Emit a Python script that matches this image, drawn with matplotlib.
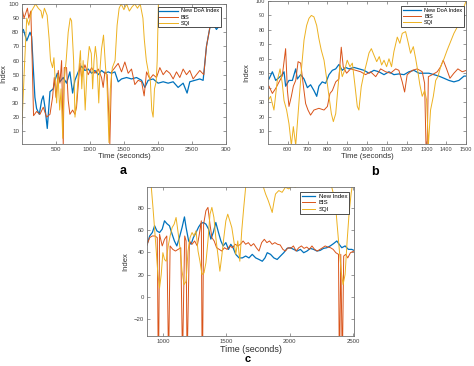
import matplotlib
matplotlib.use("Agg")
import matplotlib.pyplot as plt

plt.rcParams["font.family"] = ["Liberation Sans", "DejaVu Sans"]

# ---- panel a ----
a_new_x = [0, 20, 70, 118, 142, 166, 190, 215, 255, 290, 313, 338, 372, 412, 460, 485, 520, 558, 607,
           656, 705, 745, 779, 828, 877, 926, 975, 1024, 1073, 1122, 1171, 1220, 1269, 1318, 1367,
           1416, 1465, 1539, 1612, 1686, 1760, 1808, 1857, 1930, 2004, 2078, 2151, 2225, 2298, 2372,
           2430, 2470, 2543, 2617, 2666, 2715, 2764, 2813, 2862, 2911]
a_new_y = [80, 82, 74, 80, 77, 55, 34, 26, 22, 32, 35, 27, 12, 38, 40, 46, 51, 45, 48,
           44, 52, 37, 46, 52, 56, 53, 54, 51, 53, 50, 53, 51, 52, 51, 52,
           45, 47, 48, 47, 48, 46, 41, 46, 47, 44, 45, 44, 45, 41, 44,
           37, 45, 46, 47, 46, 70, 83, 86, 82, 85]

a_bis_x = [0, 30, 80, 100, 130, 150, 170, 215, 265, 313, 362, 412, 450, 475, 500, 534, 558, 583, 607,
           622, 656, 680, 705, 745, 779, 803, 853, 877, 926, 975, 1024, 1073, 1122, 1171, 1195, 1220,
           1254, 1293, 1318, 1367, 1416, 1465, 1514, 1563, 1612, 1661, 1710, 1760, 1798, 1833, 1882,
           1930, 1980, 2029, 2078, 2127, 2176, 2225, 2274, 2323, 2372, 2421, 2470, 2519, 2568, 2617,
           2676, 2715, 2764]
a_bis_y = [97, 90, 97, 90, 95, 60, 21, 24, 22, 27, 20, 22, 34, 48, 34, 53, 44, 60, 1,
           55, 55, 32, 22, 25, 22, 27, 58, 48, 57, 50, 55, 51, 54, 48, 41, 52,
           50, 1, 52, 55, 58, 52, 59, 51, 54, 43, 46, 45, 35, 52, 47,
           50, 48, 55, 50, 53, 51, 47, 52, 48, 54, 50, 53, 47, 50, 53,
           50, 70, 83]

a_sqi_x = [0, 40, 70, 100, 140, 200, 240, 280, 300, 330, 370, 400, 420, 450, 470, 490, 510, 530, 555,
           575, 600, 620, 650, 680, 710, 730, 760, 780, 800, 830, 860, 880, 900, 930, 960, 990, 1020,
           1040, 1060, 1080, 1100, 1130, 1150, 1170, 1200, 1230, 1250, 1280, 1300, 1330, 1370, 1400,
           1430, 1460, 1500, 1540, 1580, 1620, 1660, 1700, 1740, 1780, 1800, 1830, 1860, 1890, 1910,
           1930, 1950, 1975, 1990, 2010, 2900]
a_sqi_y = [15, 60, 90, 85, 95, 100, 97, 95, 90, 97, 92, 75, 60, 55, 62, 45, 30, 50, 25,
           40, 5, 45, 60, 80, 90, 88, 60, 20, 30, 50, 67, 40, 60, 25, 55, 70, 65,
           40, 60, 70, 62, 30, 55, 68, 78, 55, 45, 2, 40, 55, 60, 85,
           97, 100, 96, 100, 95, 98, 100, 97, 100, 90, 75, 60, 52, 45, 25,
           20, 40, 45, 60, 105, 105]

# ---- panel b ----
b_new_x = [505, 522, 539, 556, 572, 581, 589, 606, 623, 640, 648, 665, 682, 699, 715, 732, 746, 757,
           774, 791, 808, 825, 842, 858, 875, 892, 909, 934, 960, 985, 1010, 1035, 1060, 1086, 1111,
           1136, 1161, 1187, 1212, 1237, 1262, 1288, 1313, 1338, 1363, 1389, 1414, 1439, 1464, 1490, 1503]
b_new_y = [46, 51, 45, 47, 49, 51, 41, 45, 45, 53, 46, 49, 46, 40, 42, 38, 34, 41,
           44, 43, 49, 52, 53, 56, 52, 54, 53, 54, 53, 52, 50, 52, 51, 49, 51,
           49, 49.5, 49, 51, 52, 50, 50, 50, 49, 48, 46.5, 45, 44, 45, 48, 48]

b_bis_x = [505, 522, 539, 556, 572, 589, 598, 606, 618, 628, 640, 652, 665, 678, 690, 702, 715, 732,
           757, 783, 800, 813, 825, 842, 858, 870, 880, 897, 917, 943, 968, 993, 1018, 1044, 1069,
           1094, 1119, 1145, 1161, 1178, 1190, 1203, 1229, 1254, 1279, 1291, 1298, 1304, 1310, 1330,
           1355, 1372, 1385, 1402, 1419, 1439, 1459, 1481, 1503]
b_bis_y = [41, 36, 39.5, 44, 48, 67, 38, 27, 34, 41, 45, 58, 57, 42, 29, 24.5, 21, 24.5,
           25.7, 24.5, 27, 36, 38, 44, 46, 68, 54.5, 50, 53, 52, 51, 49, 51, 47.6, 53,
           51, 50, 53, 52, 44, 37, 49, 52, 53, 51, 43, 0, 0, 47.6, 49,
           51, 54.5, 59, 53, 46.5, 50, 53, 51, 52]

b_sqi_x = [500, 513, 530, 547, 561, 572, 581, 594, 606, 618, 628, 640, 657, 670, 682, 695, 707, 719,
           732, 746, 757, 769, 783, 796, 808, 820, 830, 842, 853, 864, 875, 887, 900, 914, 926, 938,
           951, 959, 971, 985, 998, 1010, 1022, 1035, 1049, 1062, 1074, 1086, 1099, 1111, 1124, 1136,
           1153, 1166, 1178, 1195, 1207, 1220, 1234, 1246, 1257, 1267, 1279, 1291, 1301, 1310, 1321,
           1335, 1347, 1358, 1372, 1389, 1405, 1422, 1439, 1456, 1473, 1490, 1503]
b_sqi_y = [31, 34, 24.5, 45, 53, 43, 31, 24.5, 15, 0, 13, 0, 31, 54.5, 73, 83, 88, 90,
           89, 83, 74, 66, 59, 46.5, 34, 22, 16.5, 22, 39.5, 55.7, 47.6, 52, 59, 54.5, 57, 43,
           27, 24.5, 40.7, 50, 57, 64, 67, 62.6, 58, 61.5, 55.7, 59, 54.5, 60, 54.5, 65,
           75, 70.7, 77.6, 78.8, 71.8, 63.8, 68.4, 60, 51, 42, 34, 38, 31.5, 0, 24.5,
           34, 45, 47.6, 54.5, 60, 66, 71.8, 77.6, 82, 89, 96, 101]

# ---- panel c ----
c_new_x = [875, 896, 917, 935, 953, 974, 995, 1013, 1031, 1052, 1073, 1091, 1110, 1130, 1151, 1170,
           1183, 1203, 1222, 1240, 1261, 1282, 1300, 1318, 1339, 1360, 1378, 1397, 1417, 1438, 1457,
           1475, 1496, 1517, 1535, 1553, 1574, 1600, 1626, 1652, 1678, 1704, 1731, 1757, 1783, 1804,
           1822, 1848, 1874, 1900, 1926, 1952, 1978, 2004, 2030, 2057, 2083, 2109, 2135, 2161, 2187,
           2213, 2239, 2265, 2291, 2318, 2344, 2370, 2388, 2409, 2435, 2461, 2487, 2505]
c_new_y = [46.7, 54.8, 57.9, 64, 59.4, 57.9, 61, 68.5, 66, 64, 56.4, 50.3, 45.8, 53.3, 62.4, 72,
           62.4, 50.3, 47.3, 53.3, 57.9, 63, 66, 67, 65.5, 61, 52, 57.9, 67, 57.9, 50.3,
           45.8, 48.8, 42.7, 47.3, 44.2, 38.2, 35, 35, 36.7, 35, 38.2, 35, 33.6, 32, 35,
           39.7, 38.2, 35, 33.6, 36.7, 39.7, 43.6, 44.2, 42.7, 41.2, 42.7, 39.7, 41.2, 43.6, 42.7,
           41.2, 41.8, 43.6, 44.2, 45.8, 47.9, 50.3, 47.3, 44.2, 45.8, 42.7, 42.7, 41.8]

c_bis_x = [875, 896, 917, 938, 956, 962, 968, 974, 995, 1013, 1031, 1042, 1048, 1057, 1078, 1099, 1120,
           1141, 1152, 1158, 1172, 1183, 1189, 1195, 1209, 1230, 1250, 1271, 1287, 1303, 1308, 1314,
           1321, 1339, 1355, 1371, 1386, 1404, 1423, 1444, 1464, 1485, 1506, 1527, 1548, 1569, 1590,
           1611, 1632, 1652, 1673, 1694, 1715, 1736, 1757, 1778, 1799, 1819, 1840, 1861, 1882, 1903,
           1924, 1945, 1965, 1986, 2007, 2028, 2049, 2070, 2091, 2112, 2133, 2154, 2174, 2195, 2216,
           2237, 2258, 2278, 2299, 2320, 2341, 2362, 2383, 2388, 2394, 2401, 2410, 2416, 2424, 2440,
           2456, 2477, 2505]
c_bis_y = [46.7, 53.3, 54.8, 54.8, 53.3, -36, -36, 56.4, 45.8, 51.8, 54.8, -36, -36, 45.8, 42.7, 41.2,
           42.7, 44.2, -36, -36, 54.8, 50.3, -36, -36, 50.3, 47.3, 50.3, 45.8, 56.4, 68.5, -36, -36,
           65.5, 77.6, 80.6, 65.5, 53.3, 50.3, 44.2, 42.7, 41.2, 44.2, 42.7, 45.8, 44.2, 47.3, 45.8,
           47.3, 50.3, 47.3, 48.8, 45.8, 47.9, 44.2, 41.2, 48.8, 51.8, 48.8, 50.3, 47.3, 48.8, 47.3,
           46.7, 42.7, 41.2, 44.2, 43.6, 45.8, 41.2, 44.2, 45.8, 43.6, 44.8, 42.7, 45.8, 42.7, 41.2,
           42.7, 44.2, 45.8, 44.8, 44.2, 42.7, 39.7, 38.2, -36, -36, 38.2, -36, -36, 36.7, 38.2,
           35, 39.7, 41.2]

c_sqi_x = [875, 909, 922, 935, 948, 961, 974, 987, 1000, 1013, 1026, 1042, 1057, 1073, 1089, 1104,
           1120, 1136, 1151, 1167, 1183, 1198, 1214, 1230, 1245, 1261, 1277, 1292, 1308, 1324, 1339,
           1355, 1371, 1386, 1402, 1417, 1433, 1449, 1464, 1480, 1496, 1511, 1527, 1543, 1559, 1574,
           1590, 1606, 1621, 1637, 1652, 1665, 1757, 1783, 1809, 1830, 1848, 1861, 1874, 1887, 1913,
           1939, 1965, 1991, 2017, 2044, 2070, 2304, 2330, 2357, 2372, 2388, 2404, 2419, 2435, 2451,
           2466, 2482, 2498]
c_sqi_y = [102, 98.8, 80.6, 61, 41.2, 20, 7.9, 20, 39.7, 33.6, 32, 45.8, 54.8, 62.4, 65.5, 71.5,
           57.9, 42.7, 23, 10.9, 13.9, 41.2, 53.3, 57.9, 54.8, 59.4, 41.2, 32, 20, 21.5, 30.6,
           50.3, 74.5, 80.6, 71.5, 53.3, 38.2, 23, 36.7, 53.3, 68.5, 74.5, 68.5, 62.4, 50.3, 38.2,
           50.3, 32, 59.4, 80.6, 98.8, 110, 110, 102, 92.7, 86.7, 80.6, 76, 85, 92.7, 95.8,
           94.2, 98.8, 97.3, 100, 98.8, 102, 102, 98.8, 86.7, 65.5, 44.2, 23, 10.9, 20, 50.3,
           74.5, 92.7, 105]

BLUE = "#0072BD"
ORANGE = "#D95319"
YELLOW = "#EDB120"
GRAY = "#707070"

fig = plt.figure(figsize=(4.74, 3.66), dpi=100)


def style(ax, tick_fs, label_fs, xlabel_fs):
    for s in ax.spines.values():
        s.set_color(GRAY)
        s.set_linewidth(0.6)
    ax.tick_params(direction="in", length=2, width=0.5, colors=GRAY, labelsize=tick_fs,
                   labelcolor="#404040", top=True, right=True, pad=2)
    ax.set_xlabel("Time (seconds)", fontsize=xlabel_fs, color="#303030", labelpad=1)
    ax.set_ylabel("Index", fontsize=label_fs, color="#303030", labelpad=2)


def legend(ax, names, anchor, fs, hl):
    lg = ax.legend(names, loc="upper right", bbox_to_anchor=anchor, borderaxespad=0,
                   fontsize=fs, fancybox=False, framealpha=1, edgecolor="#303030",
                   handlelength=hl, handletextpad=0.6, labelspacing=0.2, borderpad=0.3)
    lg.get_frame().set_linewidth(0.6)


def draw(ax, xs, ys):
    ax.plot(xs[0], ys[0], color=BLUE, lw=0.9)
    ax.plot(xs[1], ys[1], color=ORANGE, lw=0.7)
    ax.plot(xs[2], ys[2], color=YELLOW, lw=0.7)


# Set up Axes a
ax1 = fig.add_axes([0.0464, 0.6066, 0.430, 0.3825])
draw(ax1, [a_new_x, a_bis_x, a_sqi_x], [a_new_y, a_bis_y, a_sqi_y])
ax1.set_xlim(0, 3000)
ax1.set_ylim(1, 100)
ax1.set_xticks([500, 1000, 1500, 2000, 2500, 3000])
ax1.set_xticklabels(["500", "1000", "1500", "2000", "2500", "300"])
ax1.set_yticks(range(10, 101, 10))
style(ax1, 4.5, 5.5, 5.5)
ax1.yaxis.set_label_coords(-0.07, 0.5)
legend(ax1, ["New DoA Index", "BIS", "SQI"], (0.975, 0.98), 4, 3.3)

# Set up Axes b
ax2 = fig.add_axes([0.5654, 0.6066, 0.4177, 0.3907])
draw(ax2, [b_new_x, b_bis_x, b_sqi_x], [b_new_y, b_bis_y, b_sqi_y])
ax2.set_xlim(500, 1500)
ax2.set_ylim(1, 100)
ax2.set_xticks(range(600, 1501, 100))
ax2.set_yticks(range(10, 101, 10))
style(ax2, 4, 5.5, 5.5)
ax2.yaxis.set_label_coords(-0.09, 0.5)
legend(ax2, ["New DoA Index", "BIS", "SQI"], (0.99, 0.965), 4, 3.3)

# Set up Axes c
ax3 = fig.add_axes([0.3101, 0.082, 0.4367, 0.407])
draw(ax3, [c_new_x, c_bis_x, c_sqi_x], [c_new_y, c_bis_y, c_sqi_y])
ax3.set_xlim(875, 2505)
ax3.set_ylim(-35.5, 99)
ax3.set_xticks([1000, 1500, 2000, 2500])
ax3.set_yticks([-20, 0, 20, 40, 60, 80])
style(ax3, 4.3, 5.5, 6.5)
ax3.yaxis.set_label_coords(-0.085, 0.5)
legend(ax3, ["New Index", "BIS", "SQI"], (0.976, 0.966), 4.3, 2.2)

# panel letters
fig.text(123 / 474, 1 - 171 / 366, "a", fontsize=9, fontweight="bold", ha="center", va="center")
fig.text(375 / 474, 1 - 172 / 366, "b", fontsize=9, fontweight="bold", ha="center", va="center")
fig.text(248 / 474, 1 - 359 / 366, "c", fontsize=8, fontweight="bold", ha="center", va="center")

fig.savefig("out.png", dpi=100)
